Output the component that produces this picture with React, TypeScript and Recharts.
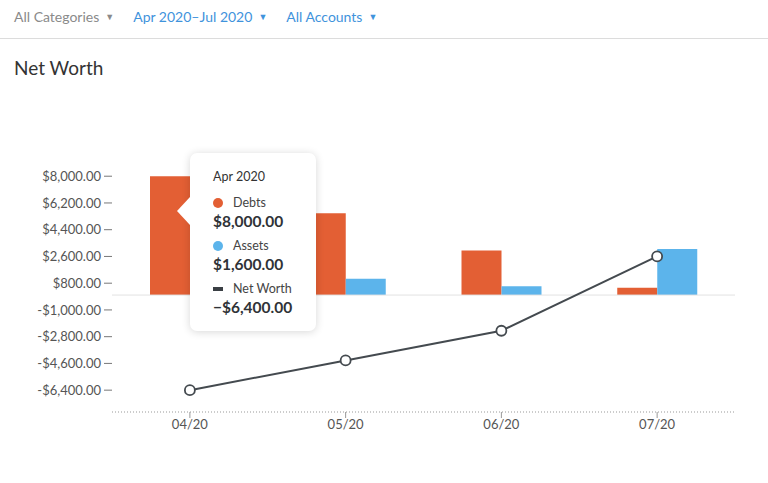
import React from "react";
import {
  ComposedChart,
  Bar,
  Line,
  XAxis,
  YAxis,
  Tooltip,
  ReferenceLine,
} from "recharts";

const months = ["04/20", "05/20", "06/20", "07/20"];
const monthNames = ["Apr 2020", "May 2020", "Jun 2020", "Jul 2020"];
const debts = [8000, 5500, 3000, 500];
const assets = [1600, 1100, 600, 3100];
const netWorth = [-6400, -4400, -2400, 2600];
const yTicks = [8000, 6200, 4400, 2600, 800, -1000, -2800, -4600, -6400];

const data = months.map((m, i) => ({
  month: m,
  name: monthNames[i],
  debts: debts[i],
  assets: assets[i],
  net: netWorth[i],
}));

const ORANGE = "#e35f34";
const BLUE = "#5cb4eb";
const DARK = "#444a4f";
const FONT = "Lato, 'Open Sans', sans-serif";

const money = (v: number) => {
  const s = Math.abs(v).toLocaleString("en-US", {
    minimumFractionDigits: 2,
    maximumFractionDigits: 2,
  });
  return (v < 0 ? "-$" : "$") + s;
};

const TipContent = ({ active, payload }: any) => {
  if (!active || !payload || !payload.length) return null;
  const row = payload[0].payload;
  const items = [
    { label: "Debts", value: row.debts, mark: "dot", color: ORANGE },
    { label: "Assets", value: row.assets, mark: "dot", color: BLUE },
    { label: "Net Worth", value: row.net, mark: "dash", color: "#3a3f44" },
  ];
  return (
    <div
      style={{
        position: "relative",
        width: 126,
        height: 178,
        boxSizing: "border-box",
        background: "#fff",
        borderRadius: 7,
        boxShadow: "0 1px 8px rgba(0,0,0,0.16)",
        padding: "16px 0 0 23px",
        fontFamily: FONT,
        color: "#333",
      }}
    >
      <div
        style={{
          position: "absolute",
          left: -13,
          top: 44,
          width: 0,
          height: 0,
          borderTop: "14px solid transparent",
          borderBottom: "14px solid transparent",
          borderRight: "13px solid #fff",
        }}
      />
      <div style={{ fontSize: 12.5, lineHeight: "16px", marginBottom: 10 }}>
        {row.name}
      </div>
      {items.map((it) => (
        <div key={it.label} style={{ marginBottom: 7 }}>
          <div
            style={{
              display: "flex",
              alignItems: "center",
              fontSize: 12.5,
              lineHeight: "16px",
              color: "#444",
            }}
          >
            <span
              style={{
                display: "inline-block",
                width: 10,
                height: it.mark === "dot" ? 10 : 4,
                borderRadius: it.mark === "dot" ? 5 : 0,
                background: it.color,
                marginRight: 10,
              }}
            />
            {it.label}
          </div>
          <div
            style={{
              fontSize: 15.5,
              fontWeight: 700,
              lineHeight: "20px",
              color: "#2f3337",
            }}
          >
            {it.value < 0 ? "\u2212" + money(-it.value) : money(it.value)}
          </div>
        </div>
      ))}
    </div>
  );
};

const Caret = ({ color }: { color: string }) => (
  <span style={{ fontSize: 9, marginLeft: 6, color, verticalAlign: 2 }}>
    ▼
  </span>
);

export default function App() {
  return (
    <div
      style={{
        position: "absolute",
        left: 0,
        top: 0,
        width: 768,
        height: 483,
        background: "#fff",
        fontFamily: FONT,
        overflow: "hidden",
      }}
    >
      <div
        style={{
          position: "absolute",
          top: 8,
          left: 14,
          fontSize: 14,
          lineHeight: "18px",
          whiteSpace: "nowrap",
        }}
      >
        <span style={{ color: "#8a8a8a" }}>
          All Categories
          <Caret color="#8a8a8a" />
        </span>
        <span style={{ color: "#3f93dc", marginLeft: 19 }}>
          Apr 2020–Jul 2020
          <Caret color="#3f93dc" />
        </span>
        <span style={{ color: "#3f93dc", marginLeft: 19 }}>
          All Accounts
          <Caret color="#3f93dc" />
        </span>
      </div>
      <div
        style={{
          position: "absolute",
          top: 38,
          left: 0,
          width: 768,
          height: 1,
          background: "#dcdcdc",
        }}
      />
      <div
        style={{
          position: "absolute",
          top: 56,
          left: 14,
          fontSize: 19,
          lineHeight: "24px",
          color: "#333",
        }}
      >
        Net Worth
      </div>
      <div style={{ position: "absolute", top: 90, left: 0 }}>
        <ComposedChart
          width={768}
          height={360}
          data={data}
          margin={{ top: 62, right: 33, bottom: 8, left: 0 }}
          barGap={0}
        >
          <XAxis
            dataKey="month"
            height={30}
            tick={{ fill: "#555", fontSize: 13, fontFamily: FONT }}
            axisLine={{ stroke: "#999", strokeDasharray: "1 2" }}
            tickLine={{ stroke: "#999" }}
            tickSize={6}
          />
          <YAxis
            width={112}
            domain={[-7870, 9630]}
            ticks={yTicks}
            interval={0}
            tickFormatter={money}
            axisLine={false}
            tickLine={{ stroke: "#777" }}
            tickSize={8}
            tickMargin={3}
            tick={{ fill: "#555", fontSize: 13, fontFamily: FONT }}
          />
          <ReferenceLine y={0} stroke="#e2e2e2" strokeWidth={1} />
          <Bar
            dataKey="debts"
            name="Debts"
            fill={ORANGE}
            barSize={40}
            isAnimationActive={false}
          />
          <Bar
            dataKey="assets"
            name="Assets"
            fill={BLUE}
            barSize={40}
            isAnimationActive={false}
          />
          <Line
            dataKey="net"
            name="Net Worth"
            type="linear"
            stroke={DARK}
            strokeWidth={2}
            dot={{ r: 5, fill: "#fff", stroke: DARK, strokeWidth: 1.8 }}
            activeDot={false}
            isAnimationActive={false}
          />
          <Tooltip
            content={<TipContent />}
            active={true}
            defaultIndex={0}
            cursor={false}
            position={{ x: 190, y: 63 }}
            isAnimationActive={false}
            allowEscapeViewBox={{ x: true, y: true }}
            wrapperStyle={{ outline: "none" }}
          />
        </ComposedChart>
      </div>
    </div>
  );
}
